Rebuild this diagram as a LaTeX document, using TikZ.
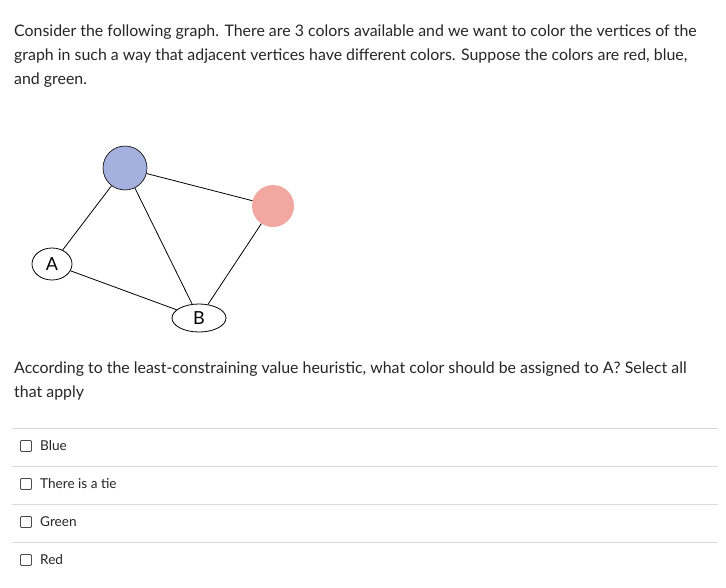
\documentclass[tikz,border=0pt]{standalone}
\usepackage{fontspec}
\setmainfont{Lato}
\usetikzlibrary{shapes.geometric}
\definecolor{lav}{RGB}{165,176,222}
\definecolor{pk}{RGB}{242,168,160}
\begin{document}
\begin{tikzpicture}[x=1pt,y=-1pt,
  txt/.style={anchor=base west,inner sep=0pt,font=\fontsize{15.9}{18}\selectfont,text=black!85},
  opt/.style={anchor=base west,inner sep=0pt,font=\fontsize{13.6}{16}\selectfont,text=black!85},
  box/.style={draw=black!70,line width=0.8pt,minimum width=11pt,minimum height=11pt,inner sep=0pt,rounded corners=1pt},
  sep/.style={draw=black!15,line width=0.8pt},
  hand/.style={line width=0.8pt,black}]
\useasboundingbox (0,0) rectangle (726,587);
\fill[white] (0,0) rectangle (726,587);
\node[txt] (p1) at (14,36) {Consider the following graph. There are 3 colors available and we want to color the vertices of the};
\node[txt] (p2) at (14,60) {graph in such a way that adjacent vertices have different colors. Suppose the colors are red, blue,};
\node[txt] (p3) at (14,84) {and green.};
% graph
\node[circle,fill=lav,minimum size=44pt,inner sep=0pt,draw=black,line width=0.6pt] (bl) at (125,168) {};
\node[circle,fill=pk,minimum size=42pt,inner sep=0pt] (rd) at (273,206) {};
\node[ellipse,draw,hand,minimum width=40pt,minimum height=32pt,inner sep=0pt,font=\fontsize{18}{18}\selectfont] (A) at (52,264) {A};
\node[ellipse,draw,hand,minimum width=54pt,minimum height=28pt,inner sep=0pt,font=\fontsize{18}{18}\selectfont] (B) at (199,318) {B};
\draw[hand] (bl) -- (A);
\draw[hand] (bl) -- (rd);
\draw[hand] (bl) -- (B);
\draw[hand] (rd) -- (B);
\draw[hand] (A) -- (B);
\node[txt] (q1) at (14,373) {According to the least-constraining value heuristic, what color should be assigned to A? Select all};
\node[txt] (q2) at (14,397) {that apply};
\coordinate (l1a) at (12,428); \coordinate (l1b) at (718,428);
\coordinate (l2a) at (12,466); \coordinate (l2b) at (718,466);
\coordinate (l3a) at (12,504); \coordinate (l3b) at (718,504);
\coordinate (l4a) at (12,542); \coordinate (l4b) at (718,542);
\draw[sep] (l1a)--(l1b); \draw[sep] (l2a)--(l2b); \draw[sep] (l3a)--(l3b); \draw[sep] (l4a)--(l4b);
\node[box] (c1) at (26,446) {}; \node[opt] (o1) at (40,450) {Blue};
\node[box] (c2) at (26,484) {}; \node[opt] (o2) at (40,488) {There is a tie};
\node[box] (c3) at (26,522) {}; \node[opt] (o3) at (40,526) {Green};
\node[box] (c4) at (26,560) {}; \node[opt] (o4) at (40,564) {Red};
\end{tikzpicture}
\end{document}
